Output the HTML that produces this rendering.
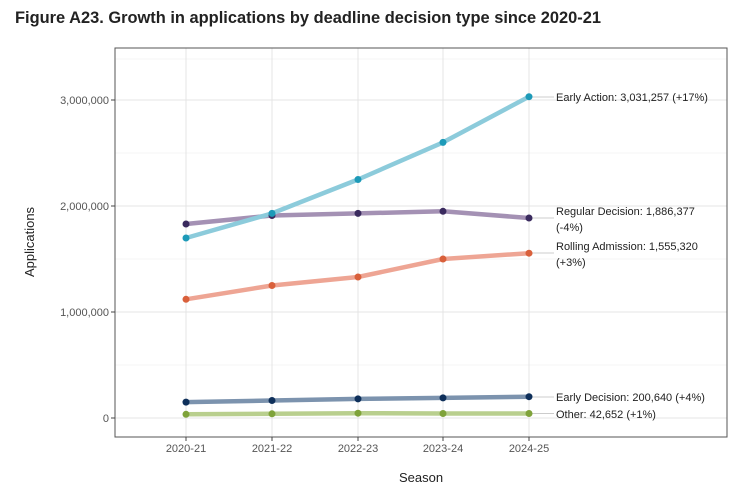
<!DOCTYPE html>
<html><head><meta charset="utf-8"><style>
body{margin:0;background:#fff;}
svg{display:block;font-family:"Liberation Sans",sans-serif;}
</style></head><body>
<svg width="736" height="494" viewBox="0 0 736 494">
<rect width="736" height="494" fill="#fff"/>
<text x="15" y="23" font-size="17" font-weight="bold" fill="#222" textLength="586" lengthAdjust="spacingAndGlyphs">Figure A23. Growth in applications by deadline decision type since 2020-21</text>
<g stroke="#f3f3f3" stroke-width="0.7">
<line x1="115" x2="727" y1="365" y2="365"/><line x1="115" x2="727" y1="259" y2="259"/><line x1="115" x2="727" y1="153" y2="153"/><line x1="115" x2="727" y1="59" y2="59"/>
</g>
<g stroke="#e4e4e4" stroke-width="1">
<line x1="115" x2="727" y1="418" y2="418"/><line x1="115" x2="727" y1="312" y2="312"/><line x1="115" x2="727" y1="206" y2="206"/><line x1="115" x2="727" y1="100" y2="100"/>
<line x1="186" x2="186" y1="48" y2="437"/><line x1="272" x2="272" y1="48" y2="437"/><line x1="358" x2="358" y1="48" y2="437"/><line x1="443" x2="443" y1="48" y2="437"/><line x1="529" x2="529" y1="48" y2="437"/>
</g>
<rect x="115" y="48" width="612" height="389" fill="none" stroke="#555" stroke-width="1"/>
<g stroke="#444" stroke-width="1">
<line x1="111" x2="115" y1="418" y2="418"/><line x1="111" x2="115" y1="312" y2="312"/><line x1="111" x2="115" y1="206" y2="206"/><line x1="111" x2="115" y1="100" y2="100"/>
<line x1="186" x2="186" y1="437" y2="441"/><line x1="272" x2="272" y1="437" y2="441"/><line x1="358" x2="358" y1="437" y2="441"/><line x1="443" x2="443" y1="437" y2="441"/><line x1="529" x2="529" y1="437" y2="441"/>
</g>
<g font-size="11" fill="#555" text-anchor="end">
<text x="109" y="422">0</text><text x="109" y="316">1,000,000</text><text x="109" y="210">2,000,000</text><text x="109" y="104">3,000,000</text>
</g>
<g font-size="11" fill="#555" text-anchor="middle">
<text x="186" y="452">2020-21</text><text x="272" y="452">2021-22</text><text x="358" y="452">2022-23</text><text x="443" y="452">2023-24</text><text x="529" y="452">2024-25</text>
</g>
<text x="421" y="482" font-size="13" fill="#222" text-anchor="middle">Season</text>
<text transform="translate(34,242) rotate(-90)" font-size="13" fill="#222" text-anchor="middle">Applications</text>
<g stroke="#ccc" stroke-width="1">
<line x1="529" x2="554" y1="97" y2="97"/><line x1="529" x2="554" y1="218" y2="218"/><line x1="529" x2="554" y1="253" y2="253"/><line x1="529" x2="554" y1="397" y2="397"/><line x1="529" x2="554" y1="413.5" y2="413.5"/>
</g>
<g fill="none" stroke-width="4.5" stroke-linecap="round" stroke-linejoin="round">
<polyline stroke="#b9cf8e" points="186,414.3 272,413.8 358,413.2 443,413.5 529,413.5"/>
<polyline stroke="#7c93ae" points="186,402.1 272,400.5 358,398.9 443,397.9 529,396.7"/>
<polyline stroke="#eea594" points="186,299.3 272,285.5 358,277 443,259 529,253.2"/>
<polyline stroke="#a491b4" points="186,224 272,215.5 358,213.4 443,211.3 529,218"/>
<polyline stroke="#8ccbdb" points="186,238 272,213.4 358,179.5 443,142.4 529,96.7"/>
</g>
<g fill="#7fa33a"><circle cx="186" cy="414.3" r="3.5"/><circle cx="272" cy="413.8" r="3.5"/><circle cx="358" cy="413.2" r="3.5"/><circle cx="443" cy="413.5" r="3.5"/><circle cx="529" cy="413.5" r="3.5"/></g>
<g fill="#0e2f5a"><circle cx="186" cy="402.1" r="3.5"/><circle cx="272" cy="400.5" r="3.5"/><circle cx="358" cy="398.9" r="3.5"/><circle cx="443" cy="397.9" r="3.5"/><circle cx="529" cy="396.7" r="3.5"/></g>
<g fill="#d9603b"><circle cx="186" cy="299.3" r="3.5"/><circle cx="272" cy="285.5" r="3.5"/><circle cx="358" cy="277" r="3.5"/><circle cx="443" cy="259" r="3.5"/><circle cx="529" cy="253.2" r="3.5"/></g>
<g fill="#3a2a5e"><circle cx="186" cy="224" r="3.5"/><circle cx="272" cy="215.5" r="3.5"/><circle cx="358" cy="213.4" r="3.5"/><circle cx="443" cy="211.3" r="3.5"/><circle cx="529" cy="218" r="3.5"/></g>
<g fill="#1d9ab8"><circle cx="186" cy="238" r="3.5"/><circle cx="272" cy="213.4" r="3.5"/><circle cx="358" cy="179.5" r="3.5"/><circle cx="443" cy="142.4" r="3.5"/><circle cx="529" cy="96.7" r="3.5"/></g>
<g font-size="11" fill="#222">
<text x="556" y="101">Early Action: 3,031,257 (+17%)</text>
<text x="556" y="215">Regular Decision: 1,886,377</text><text x="556" y="231">(-4%)</text>
<text x="556" y="250">Rolling Admission: 1,555,320</text><text x="556" y="266">(+3%)</text>
<text x="556" y="401">Early Decision: 200,640 (+4%)</text>
<text x="556" y="418">Other: 42,652 (+1%)</text>
</g>
</svg>
</body></html>
